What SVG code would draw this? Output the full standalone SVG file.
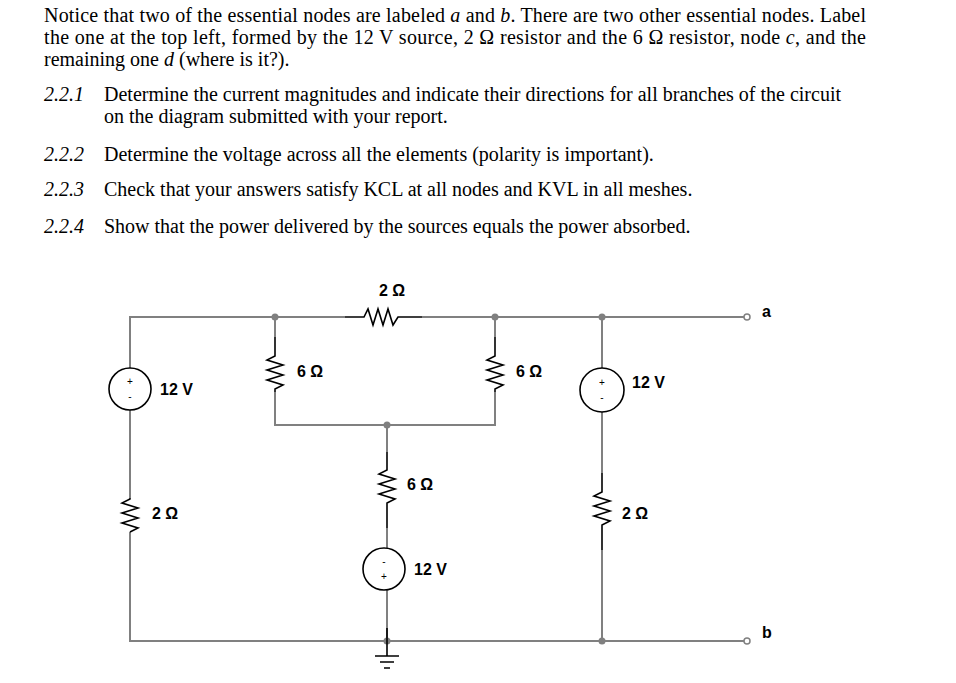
<svg xmlns="http://www.w3.org/2000/svg" width="956" height="683" viewBox="0 0 956 683">
<style>
.t{font-family:"Liberation Serif",serif;font-size:20px;fill:#000}
.l{font-family:"Liberation Sans",sans-serif;font-size:16px;font-weight:bold;fill:#000}
.s{font-family:"Liberation Sans",sans-serif;font-size:10px;fill:#000}
.w{stroke:#808080;stroke-width:2;fill:none}
.r{stroke:#000;stroke-width:1.6;fill:none}
.c{stroke:#000;stroke-width:1.6;fill:#fff}
</style>
<rect width="956" height="683" fill="#fff"/>
<g id="text">
<text class="t" x="44" y="22" textLength="822">Notice that two of the essential nodes are labeled <tspan font-style="italic">a</tspan> and <tspan font-style="italic">b</tspan>. There are two other essential nodes.  Label</text>
<text class="t" x="44" y="44" textLength="822">the one at the top left, formed by the 12 V source, 2 Ω resistor and the 6 Ω resistor, node <tspan font-style="italic">c</tspan>, and the</text>
<text class="t" x="44" y="66">remaining one <tspan font-style="italic">d</tspan> (where is it?).</text>
<text class="t" x="44" y="101" font-style="italic">2.2.1</text>
<text class="t" x="104" y="101" textLength="737">Determine the current magnitudes and indicate their directions for all branches of the circuit</text>
<text class="t" x="104" y="123">on the diagram submitted with your report.</text>
<text class="t" x="44" y="161" font-style="italic">2.2.2</text>
<text class="t" x="104" y="161">Determine the voltage across all the elements (polarity is important).</text>
<text class="t" x="44" y="196" font-style="italic">2.2.3</text>
<text class="t" x="104" y="196">Check that your answers satisfy KCL at all nodes and KVL in all meshes.</text>
<text class="t" x="44" y="233" font-style="italic">2.2.4</text>
<text class="t" x="104" y="233">Show that the power delivered by the sources equals the power absorbed.</text>
</g>
<g id="connectors">
<path class="w" d="M130 368V317H345M422 317H744"/>
<path class="w" d="M130 410V498M130 532V641H744"/>
<path class="w" d="M275 317V337M275 392V425H495V392M495 337V317"/>
<path class="w" d="M387 425V452M387 528V548M387 590V641"/>
<path class="w" d="M602 317V368M602 412V473M602 550V641"/>
</g>
<g fill="#808080">
<circle cx="275" cy="317" r="3.5"/><circle cx="495" cy="317" r="3.5"/><circle cx="602" cy="317" r="3.5"/>
<circle cx="387" cy="425" r="3.5"/><circle cx="387" cy="641" r="3.5"/><circle cx="602" cy="641" r="3.5"/>
</g>
<g id="n_a"><circle cx="747" cy="317" r="3" fill="#fff" stroke="#808080" stroke-width="1.5"/><text class="l" x="762" y="317">a</text></g>
<g id="n_b"><circle cx="747" cy="641" r="3" fill="#fff" stroke="#808080" stroke-width="1.5"/><text class="l" x="762" y="638">b</text></g>
<g id="R_top"><path class="r" d="M345 317H364L368 309L373 325L378 309L383 325L388 309L393 325L398 317H422"/><text class="l" x="379" y="296">2 Ω</text></g>
<g id="R_6a"><path class="r" d="M275 337V356L267 360L283 365L267 370L283 375L267 380L283 385L275 389V392"/><text class="l" x="297" y="377">6 Ω</text></g>
<g id="R_6b"><path class="r" d="M495 337V356L487 360L503 365L487 370L503 375L487 380L503 385L495 389V392"/><text class="l" x="516" y="377">6 Ω</text></g>
<g id="R_6c"><path class="r" d="M387 452V470L379 474L395 479L379 484L395 489L379 494L395 499L387 503V528"/><text class="l" x="407" y="490">6 Ω</text></g>
<g id="R_2l"><path class="r" d="M130 498V499L122 503L138 508L122 513L138 518L122 523L138 528L130 532"/><text class="l" x="152" y="519">2 Ω</text></g>
<g id="R_2r"><path class="r" d="M602 473V492L594 496L610 501L594 506L610 511L594 516L610 521L602 525V550"/><text class="l" x="622" y="519">2 Ω</text></g>
<g id="V_l"><circle class="c" cx="130" cy="389" r="21"/><text class="s" x="130" y="385" text-anchor="middle">+</text><text class="s" x="130" y="400" text-anchor="middle">-</text><text class="l" x="160" y="395">12 V</text></g>
<g id="V_r"><circle class="c" cx="602" cy="390" r="22"/><text class="s" x="602" y="386" text-anchor="middle">+</text><text class="s" x="602" y="401" text-anchor="middle">-</text><text class="l" x="632" y="388">12 V</text></g>
<g id="V_m"><circle class="c" cx="384" cy="569" r="21"/><text class="s" x="384" y="565" text-anchor="middle">-</text><text class="s" x="384" y="580" text-anchor="middle">+</text><text class="l" x="414" y="575">12 V</text></g>
<g id="gnd"><path class="r" d="M387 628V656M375 656H399M380 662H394M384 668H390"/></g>
</svg>
